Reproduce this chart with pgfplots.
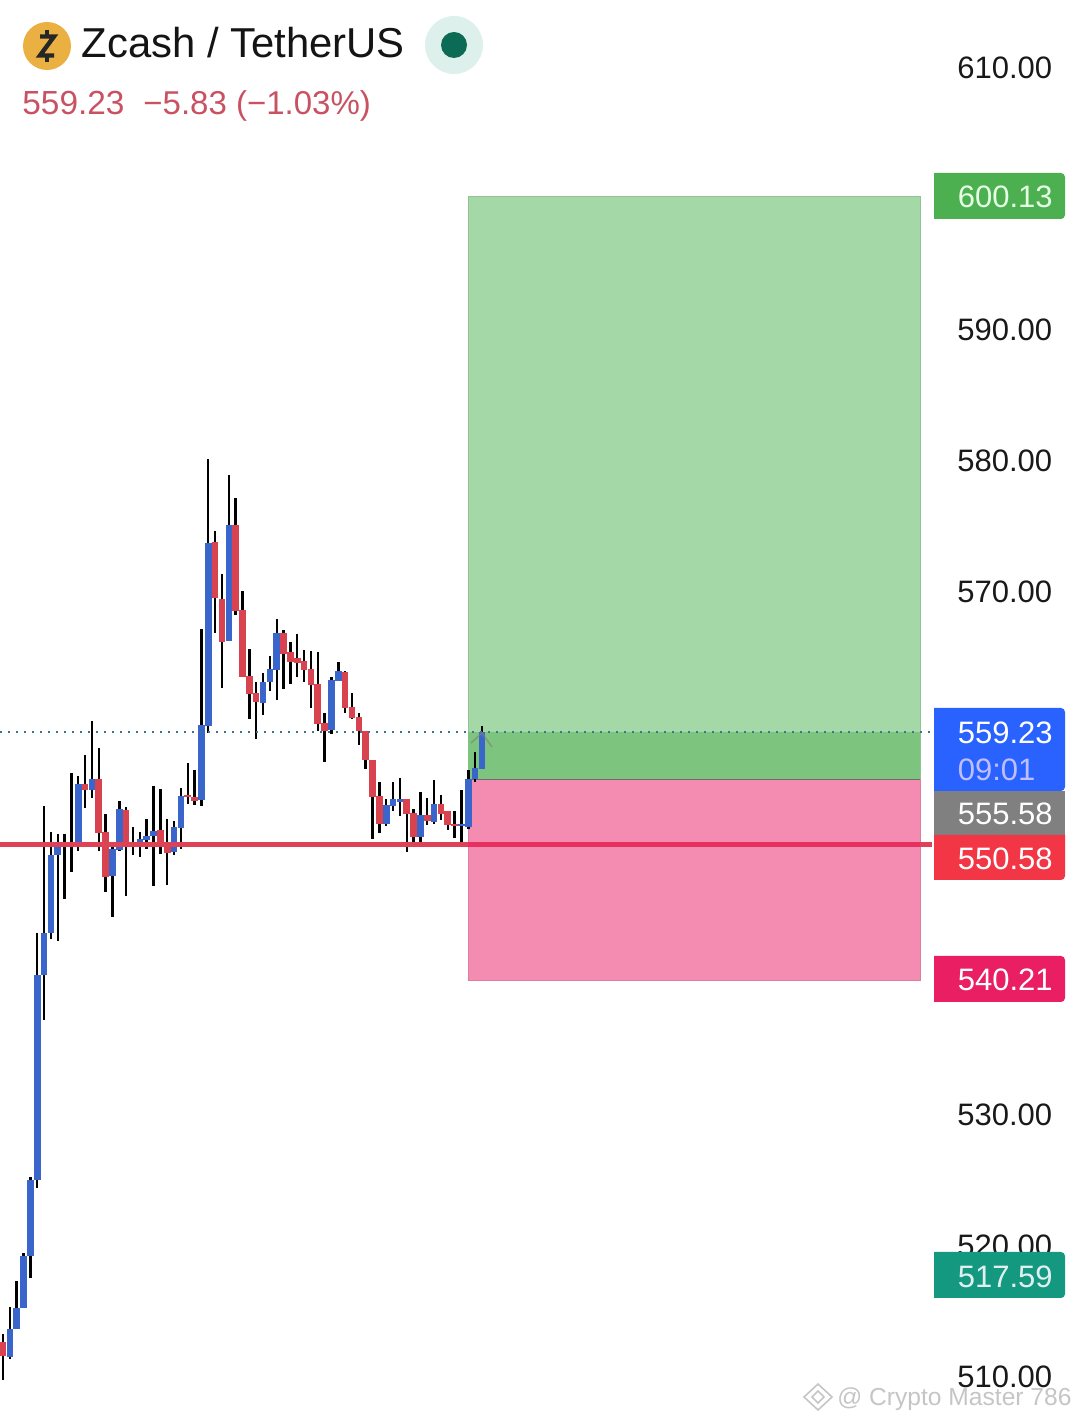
\documentclass[border=0pt]{standalone}
\usepackage{pgfplots}
\usepackage{pgfplotstable}
\usepackage{fontspec}
\setmainfont{Liberation Sans}
\pgfplotsset{compat=1.18}
\definecolor{cblue}{HTML}{3A66CC}
\definecolor{cred}{HTML}{D8434F}
\definecolor{zgreen}{HTML}{A5D8A7}
\definecolor{zgreend}{HTML}{7DC47F}
\definecolor{zpink}{HTML}{F48CB1}
\definecolor{lred}{HTML}{DE4256}
\definecolor{lredp}{HTML}{E7305F}
\definecolor{dotc}{HTML}{3F7490}
\pgfplotstableread{
x open high low close
1 511.48 515.30 511.33 513.57
2 513.62 517.29 513.62 515.18
3 515.18 519.40 515.18 519.17
4 519.17 525.21 517.52 524.98
5 524.98 543.85 524.39 540.64
6 540.64 553.55 537.20 543.85
7 543.85 551.56 543.39 549.81
8 549.81 551.41 543.26 550.75
11 550.49 555.84 550.14 555.23
13 554.77 560.04 554.16 555.61
16 548.20 550.65 545.09 550.26
17 550.19 553.93 550.14 553.32
19 550.44 551.95 549.81 550.80
20 550.65 551.56 549.68 551.03
21 550.93 552.56 550.29 551.26
22 551.26 555.08 547.46 551.64
25 550.06 552.40 549.83 551.92
26 551.89 554.90 550.29 554.31
29 554.01 567.07 553.57 559.71
30 559.66 580.06 559.13 573.66
33 566.18 578.83 566.18 575.02
38 561.44 563.69 560.52 563.00
39 563.00 565.01 562.36 564.01
40 563.96 567.83 561.65 566.76
48 559.36 563.40 559.05 563.17
49 563.10 564.55 563.10 563.86
56 552.17 554.08 552.02 553.63
57 553.55 555.38 553.17 554.08
58 553.88 555.69 552.79 554.08
61 551.18 554.62 550.57 552.86
63 552.33 555.54 552.17 553.70
67 552.02 554.77 550.72 552.17
68 551.95 556.30 551.79 555.61
69 555.61 557.67 555.38 556.45
70 556.38 559.66 556.38 559.23
}\upcandles
\pgfplotstableread{
x open high low close
0 512.63 513.21 509.70 511.53
9 550.65 551.41 546.47 550.42
10 550.72 556.07 548.53 550.49
12 555.23 557.45 553.42 554.77
14 555.61 557.96 550.14 551.46
15 551.54 552.94 547.00 548.15
18 553.24 553.47 546.70 550.44
23 551.72 554.85 549.91 550.62
24 550.72 552.56 547.51 549.98
27 554.39 556.86 553.70 554.24
28 554.26 556.30 553.63 553.93
31 573.72 574.56 566.79 569.46
32 569.36 571.27 562.59 566.08
34 575.02 577.08 568.16 568.42
35 568.50 569.97 563.43 563.43
36 563.48 565.54 560.17 562.11
37 562.18 563.02 558.65 561.47
41 566.76 566.97 562.49 565.18
42 565.31 566.08 562.87 564.57
43 564.86 566.69 563.40 564.50
44 564.63 565.47 563.02 563.94
45 564.01 565.39 561.04 562.79
46 562.87 565.31 559.30 559.81
47 559.89 560.65 556.89 559.28
50 563.81 563.86 560.68 561.04
51 561.11 562.18 560.17 560.25
52 560.37 560.63 558.21 559.28
53 559.28 559.28 556.38 557.06
54 557.06 557.06 551.03 554.26
55 554.31 555.38 551.49 552.17
59 554.08 554.08 550.04 552.94
60 553.02 553.32 550.72 551.18
62 552.86 554.16 552.10 552.40
64 553.70 554.39 552.48 552.94
65 553.17 553.17 551.72 552.10
66 552.17 553.17 551.10 552.02
}\downcandles
\newcommand{\tagtext}[3]{\node[anchor=base west,inner sep=0pt,text=#3,font=\fontsize{15.5pt}{18pt}\selectfont] at (957.5,#1) {#2};}
\begin{document}
\begin{tikzpicture}
\begin{axis}[
  at={(0,0)},anchor=south west,
  scale only axis,width=540pt,height=710.5pt,
  xmin=-0.438,xmax=157.39,ymin=506.57,ymax=615.12,
  axis x line=none,axis y line*=right,
  y axis line style={draw=none},
  ytick={510,520,530,570,580,590,610},
  major tick length=0pt,
  tick style={draw=none},
  yticklabel style={anchor=west,inner sep=0pt,xshift=-61.5pt,yshift=-0.5pt,
    font=\fontsize{15.5pt}{18pt}\selectfont,text=black!90,
    /pgf/number format/assume math mode=true,
    /pgf/number format/fixed,/pgf/number format/fixed zerofill,/pgf/number format/precision=2},
  error bars/error mark=none,
]
% position zones
\addplot[fill=zgreen,draw=zgreen!90!black,line width=0.3pt] coordinates {(68.0,600.13)(134.08,600.13)(134.08,555.58)(68.0,555.58)} -- cycle;
\addplot[fill=zpink,draw=zpink!90!black,line width=0.3pt] coordinates {(68.0,555.58)(134.08,555.58)(134.08,540.24)(68.0,540.24)} -- cycle;
\addplot[fill=zgreend,draw=none] coordinates {(68.0,559.23)(134.08,559.23)(134.08,555.58)(68.0,555.58)} -- cycle;
\addplot[color=gray!85!black,line width=0.8pt] coordinates {(68.0,555.58)(134.08,555.58)};
% wicks
\addplot[draw=none,mark=none,error bars/.cd,y dir=both,y explicit,error bar style={line width=1.2pt,black}]
  table[x=x,y expr=\thisrow{close},y error plus expr=\thisrow{high}-\thisrow{close},y error minus expr=\thisrow{close}-\thisrow{low}] {\upcandles};
\addplot[draw=none,mark=none,error bars/.cd,y dir=both,y explicit,error bar style={line width=1.2pt,black}]
  table[x=x,y expr=\thisrow{close},y error plus expr=\thisrow{high}-\thisrow{close},y error minus expr=\thisrow{close}-\thisrow{low}] {\downcandles};
% bodies
\addplot[draw=none,mark=none,error bars/.cd,y dir=minus,y explicit,error bar style={line width=3.3pt,cblue}]
  table[x=x,y expr=\thisrow{close},y error minus expr=\thisrow{close}-\thisrow{open}] {\upcandles};
\addplot[draw=none,mark=none,error bars/.cd,y dir=plus,y explicit,error bar style={line width=3.3pt,cred}]
  table[x=x,y expr=\thisrow{close},y error plus expr=\thisrow{open}-\thisrow{close}] {\downcandles};
% horizontal lines
\addplot[color=lred,line width=2.4pt] coordinates {(-0.438,550.58)(135.76,550.58)};
\addplot[color=lredp,line width=2.4pt] coordinates {(68.0,550.58)(134.08,550.58)};
\addplot[color=dotc,line width=1pt,dash pattern=on 1pt off 3pt] coordinates {(-0.438,559.23)(135.76,559.23)};
\end{axis}
\begin{scope}[x=0.5pt,y=-0.5pt,yshift=710.5pt]
  % chevron on last candle
  \draw[gray,opacity=0.6,line width=0.8pt] (471,743) -- (482,733) -- (492,747);
  % header
  \fill[color={rgb,255:red,235;green,176;blue,66}] (47,46) circle[radius=24];
  \draw[black!85,line width=2.2pt,line join=miter] (40,36.5) -- (54,36.5) -- (40,55.5) -- (54,55.5);
  \draw[black!85,line width=2pt] (47,30) -- (47,36) (47,56) -- (47,62);
  \node[anchor=base west,inner sep=0pt,text=black!92,font=\fontsize{20.9pt}{24pt}\selectfont] at (81.5,58) {Zcash / TetherUS};
  \fill[color={rgb,255:red,221;green,240;blue,236}] (454,45) circle[radius=29];
  \fill[color={rgb,255:red,11;green,107;blue,85}] (454,45) circle[radius=13];
  \node[anchor=base west,inner sep=0pt,text={rgb,255:red,200;green,82;blue,98},font=\fontsize{16.7pt}{20pt}\selectfont] at (22,115) {559.23};
  \node[anchor=base west,inner sep=0pt,text={rgb,255:red,200;green,82;blue,98},font=\fontsize{16.5pt}{20pt}\selectfont] at (143,115) {−5.83 (−1.03\%)};
  % price tags
  \fill[color={rgb,255:red,76;green,175;blue,80}] (934,173) [rounded corners=2pt] -- (1065,173) -- (1065,219) [sharp corners] -- (934,219) -- cycle;
  \tagtext{208}{600.13}{white!90!green}
  \fill[color={rgb,255:red,41;green,98;blue,255}] (934,708) [rounded corners=2pt] -- (1065,708) -- (1065,791) [sharp corners] -- (934,791) -- cycle;
  \tagtext{744}{559.23}{white}
  \tagtext{781}{09:01}{white!75!blue}
  \fill[color={rgb,255:red,128;green,128;blue,128}] (934,791) -- (1065,791) -- (1065,835) -- (934,835) -- cycle;
  \tagtext{825}{555.58}{white}
  \fill[color={rgb,255:red,242;green,54;blue,69}] (934,835) -- (1065,835) [rounded corners=2pt] -- (1065,880) [sharp corners] -- (934,880) -- cycle;
  \tagtext{870}{550.58}{white}
  \fill[color={rgb,255:red,233;green,30;blue,99}] (934,956) [rounded corners=2pt] -- (1065,956) -- (1065,1002) [sharp corners] -- (934,1002) -- cycle;
  \tagtext{991}{540.21}{white}
  \fill[color={rgb,255:red,20;green,152;blue,128}] (934,1252) [rounded corners=2pt] -- (1065,1252) -- (1065,1298) [sharp corners] -- (934,1298) -- cycle;
  \tagtext{1288}{517.59}{white!88!teal}
  % watermark
  \begin{scope}[opacity=0.75]
  \node[anchor=base west,inner sep=0pt,text=black!30,font=\fontsize{12.3pt}{15pt}\selectfont] at (837,1405) {@ Crypto Master 786};
  \draw[black!30,line width=0.8pt] (818,1384) -- (832,1397) -- (818,1410) -- (804,1397) -- cycle;
  \draw[black!30,line width=0.8pt] (818,1391) -- (824,1397) -- (818,1403) -- (812,1397) -- cycle;
  \end{scope}
\end{scope}
\end{tikzpicture}
\end{document}
